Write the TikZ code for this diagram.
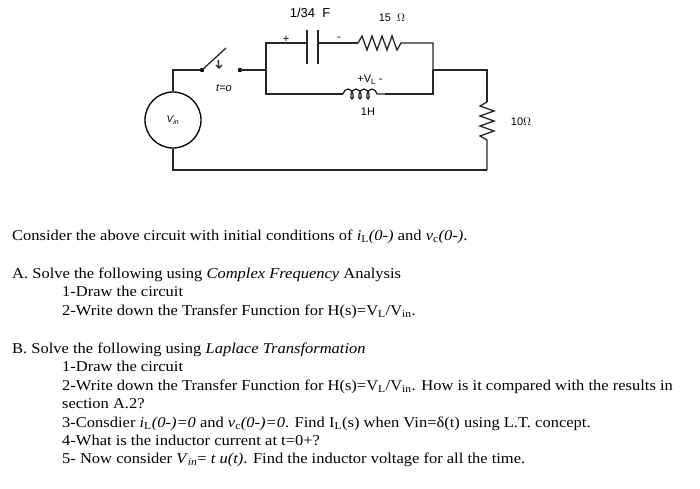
\documentclass[tikz,border=0pt]{standalone}
\usepackage{fontspec}
\setmainfont[FakeStretch=1.1]{Liberation Serif}
\newfontfamily\hand{Liberation Sans}
\usetikzlibrary{decorations.pathmorphing}
\begin{document}
\begin{tikzpicture}[x=1pt,y=-1pt,
  wire/.style={line width=1.3pt,black!85},
  hl/.style={font=\hand\fontsize{11}{13}\selectfont,inner sep=0pt},
  tx/.style={anchor=base west,inner sep=0pt,font=\fontsize{15}{17}\selectfont}]
\fill[white] (0,0) rectangle (700,488);
\useasboundingbox (0,0) rectangle (700,488);
% coordinates
\coordinate (tl) at (173,70);
\coordinate (bl) at (173,170);
\coordinate (br) at (487,170);
\coordinate (sw1) at (202,70);
\coordinate (sw2) at (240,70);
\coordinate (pl) at (266,70);
\coordinate (pr) at (433,70);
\coordinate (rt) at (487,70);
% source
\node[draw,circle,line width=1.3pt,minimum size=56pt,inner sep=0pt] (src) at (173,120) {};
\node[font=\hand\fontsize{10}{12}\selectfont\itshape] at (src) {V\textsubscript{in}};
\draw[wire] (src.north) -- (tl) -- (sw1);
\draw[wire] (src.south) -- (bl) -- (br);
% switch
\fill (sw1) circle (2.2pt); \fill (sw2) circle (2.2pt);
\draw[wire] (sw1) -- (226,48);
\draw[wire] (218,60) -- (219,68);
\draw[wire] (216,65) -- (219,68) -- (222,65);
\node[hl] at (224,88) {\itshape t=o};
\draw[wire] (sw2) -- (pl);
% parallel branch
\draw[wire] (pl) |- (307,43);
\draw[wire] (307,30) -- (307,64);
\draw[wire] (318,30) -- (318,64);
\draw[wire] (318,43) -- (358,43);
\draw[wire] (358,43) -- (362,36) -- (367,50) -- (372,36) -- (377,50) -- (382,36) -- (387,50) -- (392,36) -- (397,50) -- (401,43) -- (433,43) -- (pr);
\draw[wire] (pl) |- (343,94);
\draw[wire,decorate,decoration={coil,aspect=0.6,segment length=8pt,amplitude=5pt}] (343,94) -- (385,94);
\draw[wire] (385,94) -| (pr);
\draw[wire] (pr) -- (rt) -- (487,102);
\draw[wire] (487,102) -- (480,106) -- (494,111) -- (480,116) -- (494,121) -- (480,126) -- (494,131) -- (480,136) -- (487,140) -- (br);
% labels
\node[hl,font=\hand\fontsize{13}{15}\selectfont] at (310,13) {1/34\ \ F};
\node[hl] at (392,18) {15\ \ $\Omega$};
\node[hl] at (286,39) {+};
\node[hl] at (339,39) {-};
\node[hl] at (370,80) {+V\textsubscript{L} -};
\node[hl] at (368,112) {1H};
\node[hl] at (521,122) {10$\Omega$};
% text
\node[tx] at (12,240) {Consider the above circuit with initial conditions of \textit{i}\textsubscript{L}\textit{(0-)} and \textit{v}\textsubscript{c}\textit{(0-)}.};
\node[tx] at (12,278) {A. Solve the following using \textit{Complex Frequency} Analysis};
\node[tx] at (62,296) {1-Draw the circuit};
\node[tx] at (62,315) {2-Write down the Transfer Function for H(s)=V\textsubscript{L}/V\textsubscript{in}.};
\node[tx] at (12,353) {B. Solve the following using \textit{Laplace Transformation}};
\node[tx] at (62,371) {1-Draw the circuit};
\node[tx] at (62,390) {2-Write down the Transfer Function for H(s)=V\textsubscript{L}/V\textsubscript{in}. How is it compared with the results in};
\node[tx] at (62,408) {section A.2?};
\node[tx] at (62,427) {3-Consdier \textit{i}\textsubscript{L}\textit{(0-)=0} and \textit{v}\textsubscript{c}\textit{(0-)=0}. Find I\textsubscript{L}(s) when Vin=δ(t) using L.T. concept.};
\node[tx] at (62,445) {4-What is the inductor current at t=0+?};
\node[tx] at (62,463) {5- Now consider \textit{V}\textsubscript{\textit{in}}= \textit{t u(t)}. Find the inductor voltage for all the time.};
\end{tikzpicture}
\end{document}
